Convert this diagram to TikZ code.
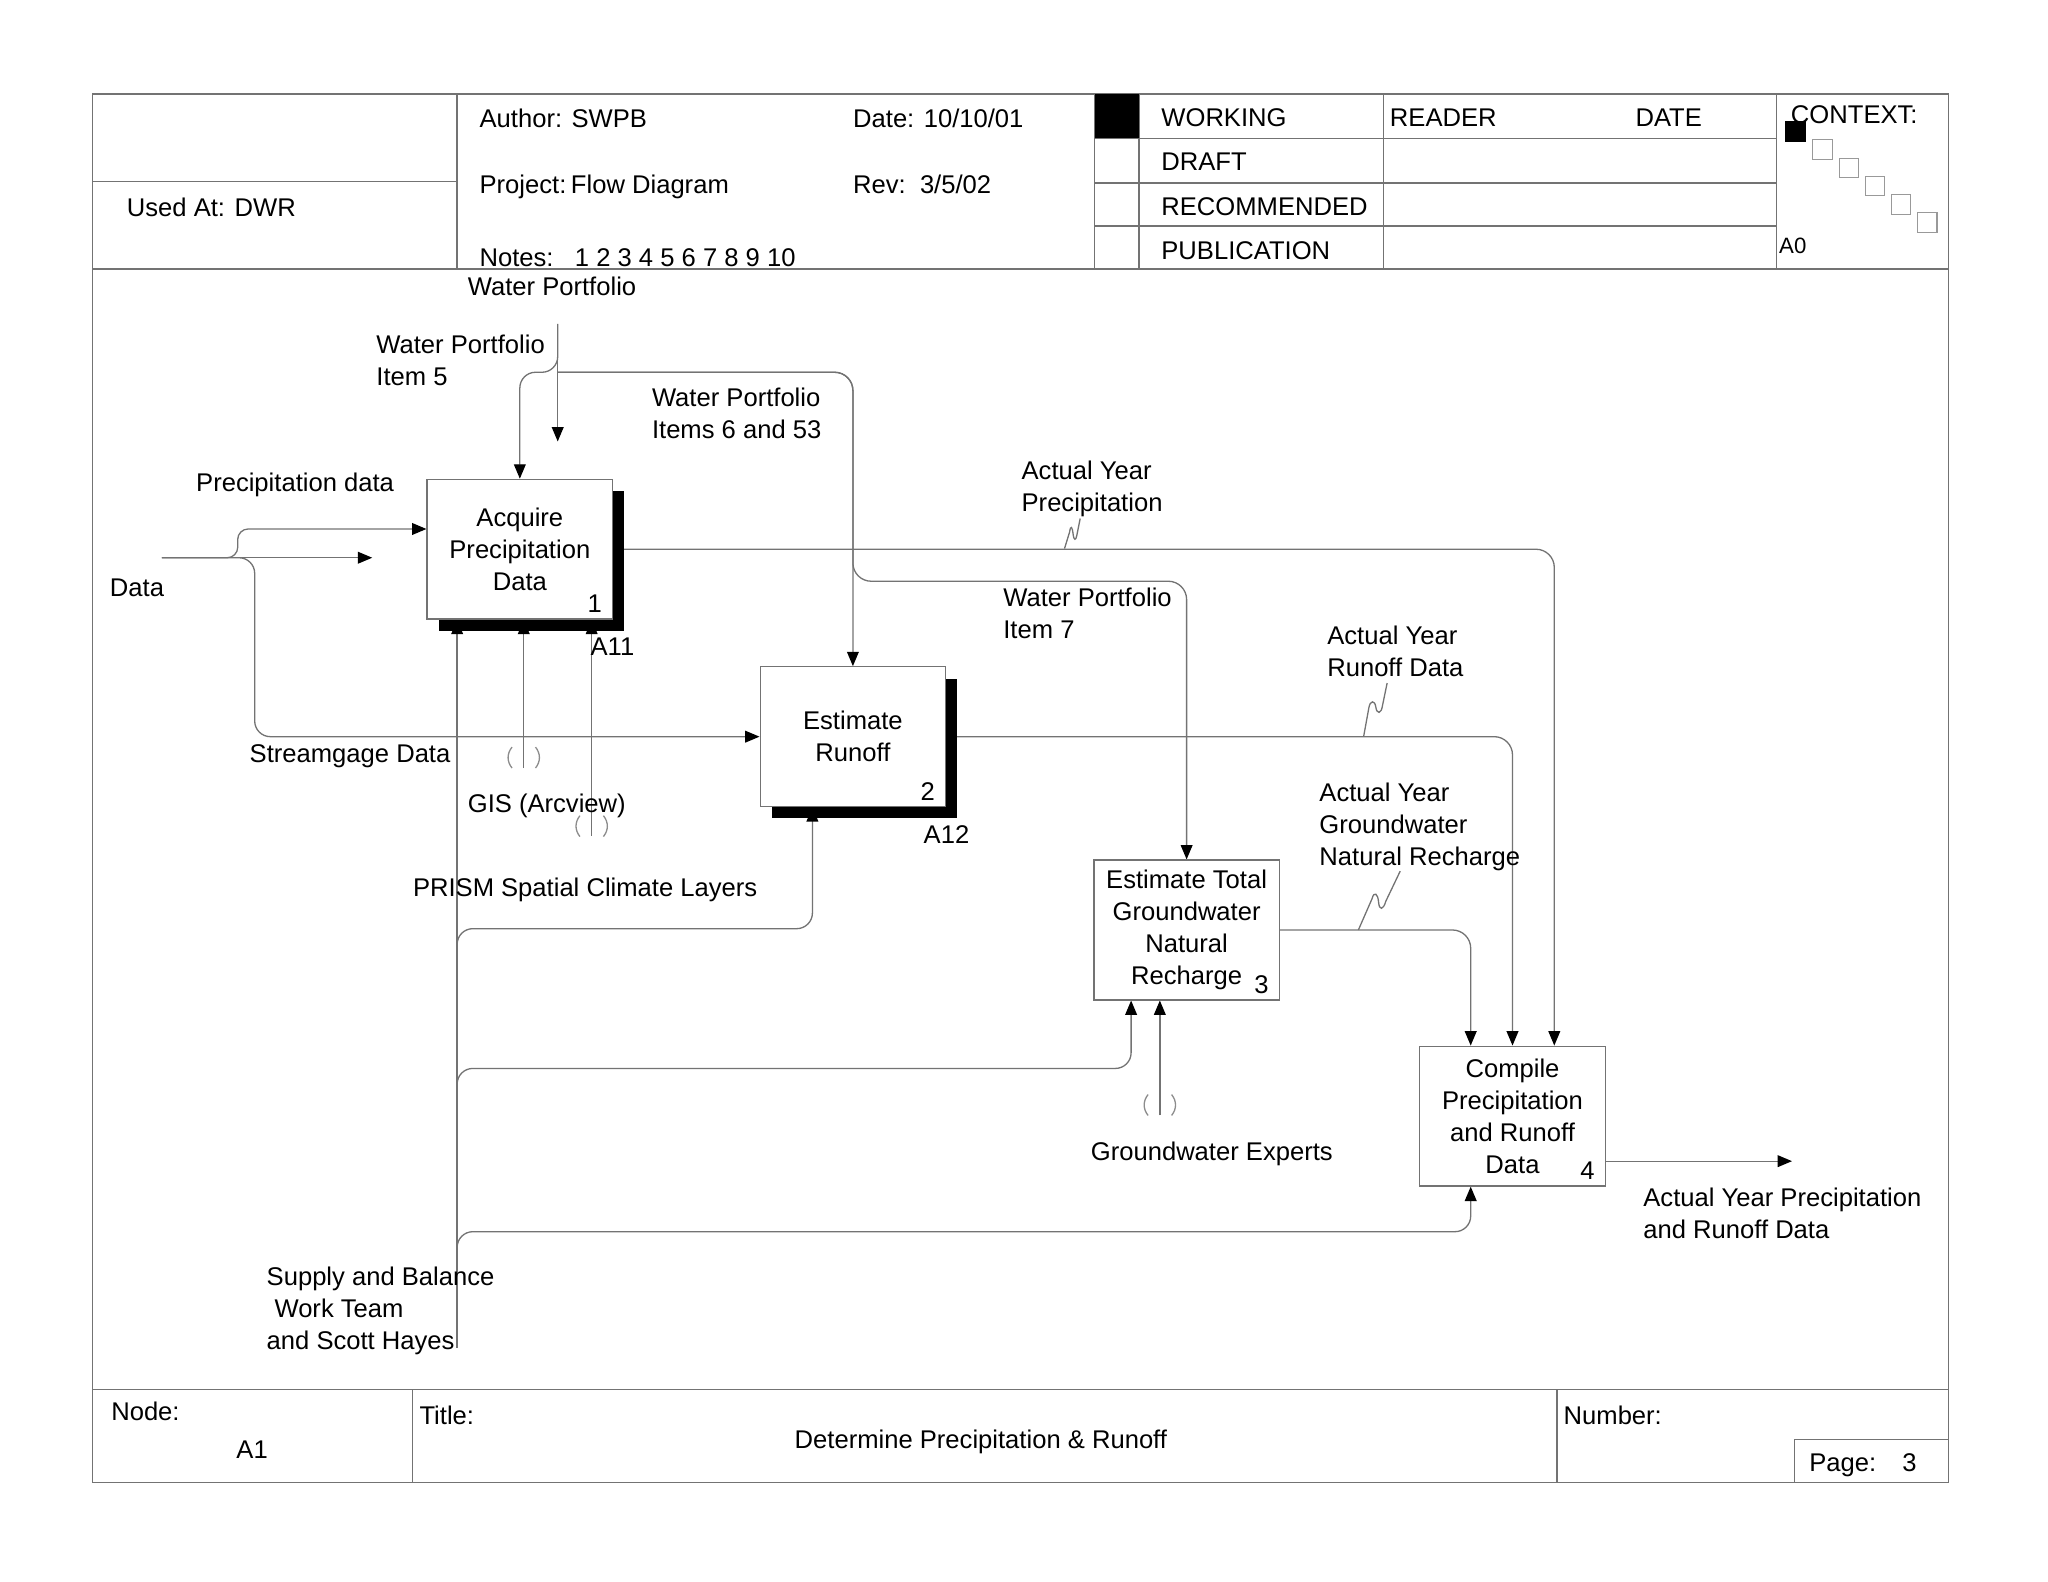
\documentclass[tikz,border=0pt]{standalone}
\usepackage{fontspec}
\setmainfont{Liberation Sans}
\usetikzlibrary{positioning,arrows.meta,calc,shadows,backgrounds}
\begin{document}
\begin{tikzpicture}[x=1pt,y=-1pt,font=\fontsize{19.6}{24.5}\selectfont,
  ln/.style={draw=black!55,line width=1pt},
  box/.style={ln,fill=white,minimum width=142pt,minimum height=107pt,align=center,inner sep=2pt},
  shbox/.style={box,drop shadow={shadow xshift=9pt,shadow yshift=-9pt,fill=black,opacity=1}},
  ar/.style={ln,-{Triangle[length=11pt,width=9pt,color=black]}},
  lbl/.style={anchor=north west,align=left,inner sep=0pt},
  num/.style={inner sep=0pt},
  tunnel/.pic={\draw[black!45,line width=1pt] (-9,-8) .. controls (-13,-3) and (-13,3) .. (-9,8)
    (9,-8) .. controls (13,-3) and (13,3) .. (9,8);}]
\useasboundingbox (0,0) rectangle (1568,1211);
% frame, header and footer
\draw[ln] (71,72) rectangle (1492,1135);
\draw[ln] (71,206) -- (1492,206) (71,1064) -- (1492,1064);
\draw[ln] (71,139) -- (350,139) (350,72) -- (350,206);
\foreach \x in {838,872,1059,1360} \draw[ln] (\x,72) -- (\x,206);
\foreach \y in {106,140,173} \draw[ln] (838,\y) -- (1360,\y);
\fill (838,72) rectangle (872,106);
\fill (1367,93) rectangle (1383,109);
\foreach \i in {0,...,4} \draw[black!40,line width=0.8pt] ({1388+20*\i},{107+14*\i}) rectangle ++(15,15);
\draw[ln] (316,1064) -- (316,1135) (1192,1064) -- (1192,1135);
\draw[ln] (1374,1135) -- (1374,1102) -- (1492,1102);
\node[lbl] (usedat) at (97,151) {Used At: DWR};
\node[lbl] (author) at (367,83) {Author: SWPB};
\node[lbl] (date) at (653,83) {Date: 10/10/01};
\node[lbl] (project) at (367,134) {Project:\hspace{3.5pt}Flow Diagram};
\node[lbl] (rev) at (653,134) {Rev:\ \ 3/5/02};
\node[lbl] (notes) at (367,190) {Notes:\ \ \ 1 2 3 4 5 6 7 8 9 10};
\node[lbl] (working) at (889,83) {WORKING};
\node[lbl] (draft) at (889,117) {DRAFT};
\node[lbl] (recom) at (889,151) {RECOMMENDED};
\node[lbl] (publ) at (889,185) {PUBLICATION};
\node[lbl] (reader) at (1064,83) {READER};
\node[lbl] (datecol) at (1252,83) {DATE};
\node[lbl] (context) at (1371,81) {CONTEXT:};
\node[lbl,font=\fontsize{17}{20}\selectfont] (a0) at (1362,182) {A0};
\node[lbl] (nodelbl) at (85,1073) {Node:};
\node[anchor=base,inner sep=0pt] (a1) at (193,1117) {A1};
\node[lbl] (titlelbl) at (321,1076) {Title:};
\node[anchor=base,inner sep=0pt] (title) at (751,1109) {Determine Precipitation \& Runoff};
\node[lbl] (numberlbl) at (1197,1076) {Number:};
\node[lbl] (page) at (1385,1113) {Page:\hspace{20pt}3};
% activity boxes
\node[shbox] (b1) at (398,420.5) {Acquire\\Precipitation\\Data};
\node[shbox] (b2) at (653,564) {Estimate\\Runoff};
\node[box] (b3) at (908.5,712) {Estimate Total\\Groundwater\\Natural\\Recharge};
\node[box] (b4) at (1158,854.5) {Compile\\Precipitation\\and Runoff\\Data};
\node[num,above left=5pt and 8.5pt of b1.south east] (n1) {1};
\node[num,above left=5pt and 8.5pt of b2.south east] (n2) {2};
\node[num,above left=5pt and 8.5pt of b3.south east] (n3) {3};
\node[num,above left=5pt and 8.5pt of b4.south east] (n4) {4};
\node[lbl] (a11) at (452,488) {A11};
\node[lbl] (a12) at (707,632) {A12};
% arrow labels
\node[lbl] (wp) at (358,212) {Water Portfolio};
\node[lbl] (wp5) at (288,256) {Water Portfolio\\Item 5};
\node[lbl] (wp653) at (499,297) {Water Portfolio\\Items 6 and 53};
\node[lbl] (pd) at (150,362) {Precipitation data};
\node[lbl] (data) at (84,443) {Data};
\node[lbl] (ayp) at (782,353) {Actual Year\\Precipitation};
\node[lbl] (wp7) at (768,450) {Water Portfolio\\Item 7};
\node[lbl] (ayr) at (1016,479) {Actual Year\\Runoff Data};
\node[lbl] (sg) at (191,570) {Streamgage Data};
\node[lbl] (gislbl) at (358,608) {GIS (Arcview)};
\node[lbl] (aygw) at (1010,599) {Actual Year\\Groundwater\\Natural Recharge};
\node[lbl] (prismlbl) at (316,672) {PRISM Spatial Climate Layers};
\node[lbl] (gwelbl) at (835,874) {Groundwater Experts};
\node[lbl] (outlbl) at (1258,909) {Actual Year Precipitation\\and Runoff Data};
\node[lbl] (sblbl) at (204,970) {Supply and Balance\\\hspace{6pt}Work Team\\and Scott Hayes};
\coordinate (datain) at (124,427);
\coordinate (dataend) at (285,427);
\coordinate (wpin) at (427,248);
\coordinate (wpend) at (427,338);
\coordinate (wpsplit) at (427,285);
\coordinate (outend) at (1372,889);
\coordinate (sbin) at (350,1032);
\coordinate (gisend) at (401,588);
\coordinate (prismend) at (453,640);
\coordinate (gweend) at (888,854);
\begin{scope}[on background layer]
\draw[ar] (datain) -- (dataend);
\draw[ar,rounded corners=8pt] (datain) -- (182,427) -- (182,405) -- (b1.west |- 0,405);
\draw[ar,rounded corners=12pt] (datain) -- (195,427) -- (195,564) -- (b2.west);
\draw[ar] (wpin) -- (wpend);
\draw[ar,rounded corners=12pt] (wpin) -- (wpsplit) -- (398,285) -- (b1.north);
\draw[ar,rounded corners=14pt] (wpsplit) -- (653,285) -- (b2.north);
\draw[ar,rounded corners=14pt] (wpsplit) -- (653,285) -- (653,445) -| (b3.north);
\draw[ar,rounded corners=14pt] (b1.east) -| ([xshift=32pt]b4.north);
\draw[ar,rounded corners=14pt] (b2.east) -| (b4.north);
\draw[ar,rounded corners=14pt] (b3.east) -| ([xshift=-32pt]b4.north);
\draw[ar] (outend -| b4.east) -- (outend);
\draw[ar] (sbin) -- (sbin |- b1.south);
\draw[ar] (gisend) -- (gisend |- b1.south);
\draw[ar] (prismend) -- (prismend |- b1.south);
\draw[ar] (gweend) -- (gweend |- b3.south);
\draw[ar,rounded corners=12pt] (sbin |- 0,745) -- (350,711) -| ([xshift=-31pt]b2.south);
\draw[ar,rounded corners=12pt] (sbin |- 0,852) -- (350,818) -| ([xshift=-42.5pt]b3.south);
\draw[ar,rounded corners=12pt] (sbin |- 0,966) -- (350,943) -| ([xshift=-32pt]b4.south);
\end{scope}
\pic at (401,580) {tunnel};
\pic at (453,632.5) {tunnel};
\pic at (888,846) {tunnel};
% squiggles
\draw[ln] (827,397) -- (824.4,410) .. controls (823.7,414) and (822.2,414) .. (821.6,409)
  .. controls (821,403) and (819.6,402) .. (819,407) -- (815,420);
\draw[ln] (1062,523) -- (1058.5,540) .. controls (1057.5,547) and (1054,547) .. (1053.3,541)
  .. controls (1052.5,536) and (1049,536) .. (1048,542) -- (1044,564);
\draw[ln] (1072,667) -- (1061,690) .. controls (1059,697) and (1056,697) .. (1055.5,691)
  .. controls (1055,684) and (1052,682) .. (1050.5,688) -- (1040,712);
\end{tikzpicture}
\end{document}
